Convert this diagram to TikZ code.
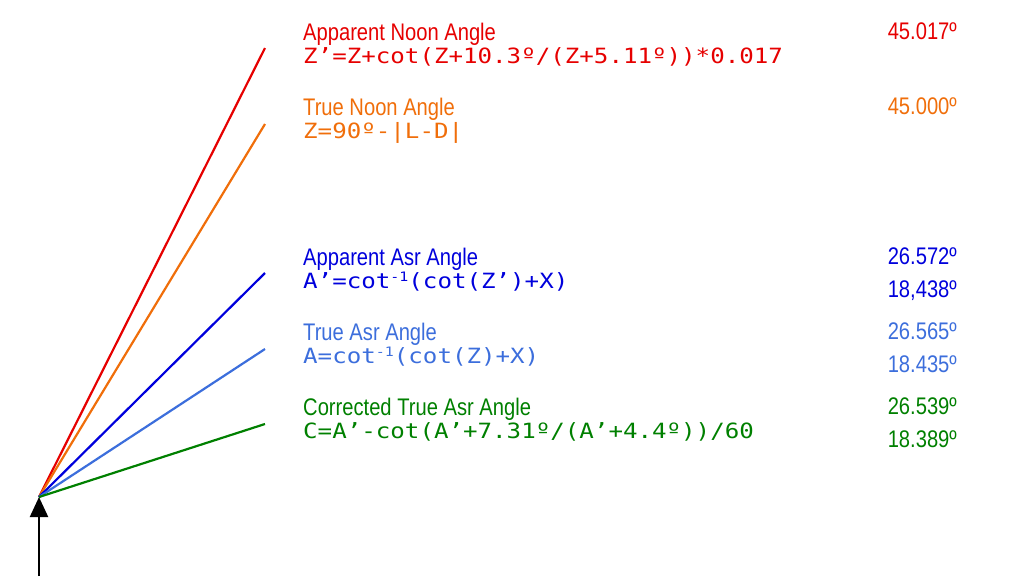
\documentclass[tikz,border=0pt]{standalone}
\usetikzlibrary{arrows.meta}
\usepackage{fontspec}
\setmainfont[FakeStretch=0.84]{Liberation Sans}
\newfontfamily\monof[FakeStretch=1.15]{DejaVu Sans Mono}
\definecolor{cred}{RGB}{230,0,0}
\definecolor{corange}{RGB}{240,110,10}
\definecolor{cblue}{RGB}{0,0,220}
\definecolor{clblue}{RGB}{60,110,220}
\definecolor{cgreen}{RGB}{0,128,0}
\begin{document}
\begin{tikzpicture}[x=1pt,y=-1pt,
  ttl/.style={anchor=base west,inner sep=0,font=\fontsize{24}{24}\selectfont},
  frm/.style={anchor=base west,inner sep=0,font=\monof\fontsize{21}{21}\selectfont},
  num/.style={anchor=base east,inner sep=0,font=\fontsize{24}{24}\selectfont},
  ray/.style={line width=2.2pt}]
\useasboundingbox (0,0) rectangle (1010,582);
\coordinate (o) at (39,497);
\coordinate (b) at (39,576);
\coordinate (r1) at (265,48);
\coordinate (r2) at (265,124);
\coordinate (r3) at (265,273);
\coordinate (r4) at (265,349);
\coordinate (r5) at (265,424);
\draw[ray,cred] (o) -- (r1);
\draw[ray,corange] (o) -- (r2);
\draw[ray,cblue] (o) -- (r3);
\draw[ray,clblue] (o) -- (r4);
\draw[ray,cgreen] (o) -- (r5);
\draw[line width=2.2pt,-{Triangle[length=20pt,width=18pt]}] (b) -- (o);
\node[ttl,cred] (t1) at (303,40) {Apparent Noon Angle};
\node[frm,cred] (f1) at (303,63) {Z’=Z+cot(Z+10.3º/(Z+5.11º))*0.017};
\node[num,cred] (n1) at (957,39) {45.017º};
\node[ttl,corange] (t2) at (303,115) {True Noon Angle};
\node[frm,corange] (f2) at (303,138) {Z=90º-|L-D|};
\node[num,corange] (n2) at (957,114) {45.000º};
\node[ttl,cblue] (t3) at (303,265) {Apparent Asr Angle};
\node[frm,cblue] (f3) at (303,288) {A’=cot\raisebox{7pt}{\fontsize{13}{13}\selectfont-1}(cot(Z’)+X)};
\node[num,cblue] (n3) at (957,264) {26.572º};
\node[num,cblue] (m3) at (957,297) {18,438º};
\node[ttl,clblue] (t4) at (303,340) {True Asr Angle};
\node[frm,clblue] (f4) at (303,363) {A=cot\raisebox{7pt}{\fontsize{13}{13}\selectfont-1}(cot(Z)+X)};
\node[num,clblue] (n4) at (957,339) {26.565º};
\node[num,clblue] (m4) at (957,372) {18.435º};
\node[ttl,cgreen] (t5) at (303,415) {Corrected True Asr Angle};
\node[frm,cgreen] (f5) at (303,438) {C=A’-cot(A’+7.31º/(A’+4.4º))/60};
\node[num,cgreen] (n5) at (957,414) {26.539º};
\node[num,cgreen] (m5) at (957,447) {18.389º};
\end{tikzpicture}
\end{document}
